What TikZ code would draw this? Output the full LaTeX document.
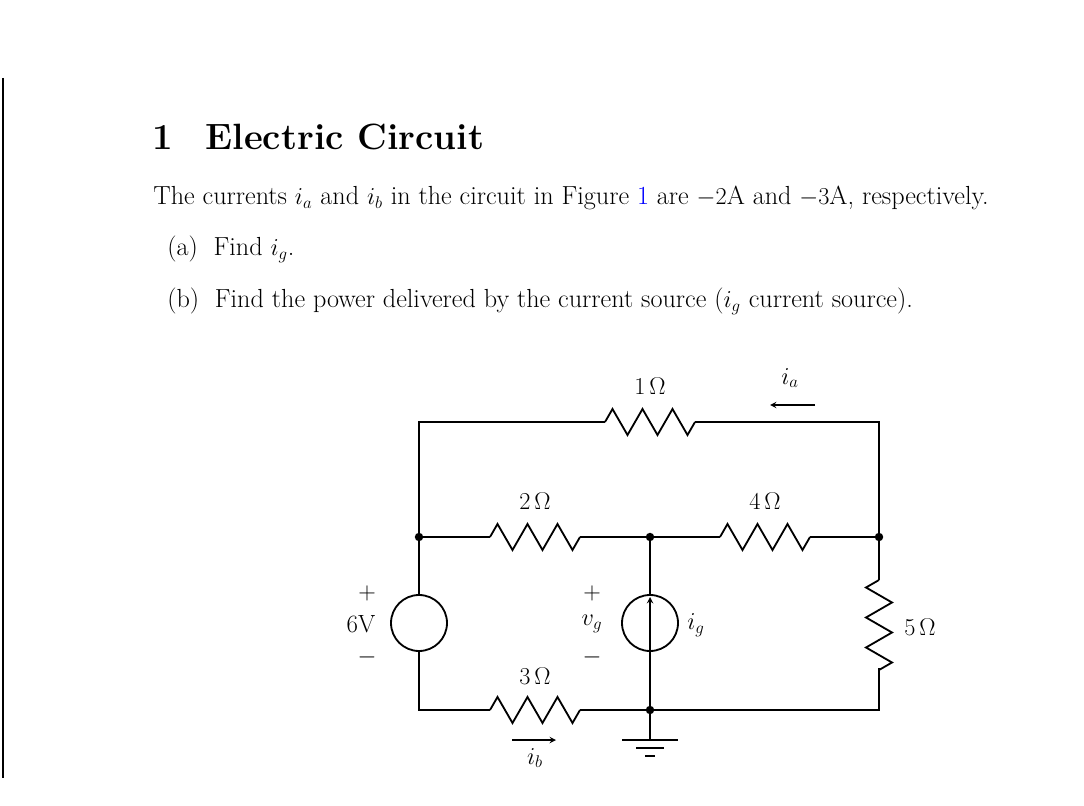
\documentclass[tikz,border=0pt]{standalone}
\begin{document}
\begin{tikzpicture}[x=0.025cm,y=-0.025cm,
  txt/.style={inner sep=0pt,anchor=base west,font=\fontsize{18.6}{22}\selectfont},
  lbl/.style={inner sep=1pt,font=\fontsize{17.7}{21}\selectfont},
  wire/.style={line width=1.3pt},
  dot/.style={circle,fill=black,inner sep=0pt,minimum size=6pt},
  src/.style={circle,draw,line width=1.3pt,minimum size=56pt*0.711,inner sep=0pt}]
\useasboundingbox (0,0) rectangle (1084,806);
\draw[line width=1pt] (3,78) -- (3,778);
\node[txt,font=\fontsize{26}{30}\selectfont\bfseries] (title) at (152,150) {1\hspace{0.9em}Electric Circuit};
\node[txt] (l1) at (153,205) {The currents $i_a$ and $i_b$ in the circuit in Figure \textcolor{blue}{1} are $-2$A and $-3$A, respectively.};
\node[txt] (l2) at (167,256) {(a)\ \ Find $i_g$.};
\node[txt] (l3) at (167,308) {(b)\ \ Find the power delivered by the current source ($i_g$ current source).};
% coordinates
\coordinate (TL) at (419,422); \coordinate (TR) at (879,422);
\node[dot] (ML) at (419,537) {}; \node[dot] (MM) at (650,537) {}; \node[dot] (MR) at (879,537) {};
\coordinate (BL) at (419,710); \coordinate (BR) at (879,710);
\node[dot] (BM) at (650,710) {};
\node[src] (V) at (419,623) {};
\node[src] (I) at (650,623) {};
\draw[-stealth,line width=1pt] (650,650) -- (650,597);
% wires
\draw[wire] (V.north) -- (ML.center) -- (TL) -- (605,422);
\draw[wire] (695,422) -- (TR) -- (MR.center) -- (879,580);
\draw[wire] (879,668) -- (BR) -- (BM.center) -- (580,710);
\draw[wire] (490,710) -- (BL) -- (V.south);
\draw[wire] (ML.center) -- (490,537); \draw[wire] (580,537) -- (MM.center) -- (720,537);
\draw[wire] (810,537) -- (MR.center);
\draw[wire] (MM.center) -- (I.north); \draw[wire] (I.south) -- (BM.center);
% resistors
\foreach \x/\y in {605/422,490/537,720/537,490/710}{
  \draw[wire,line join=miter] (\x,\y) -- ++(7.5,-13) -- ++(15,26) -- ++(15,-26) -- ++(15,26) -- ++(15,-26) -- ++(15,26) -- ++(7.5,-13);}
\draw[wire,line join=miter] (879,580) -- ++(-13,7.5) -- ++(26,15) -- ++(-26,15) -- ++(26,15) -- ++(-26,15) -- ++(26,15) -- ++(-13,7.5);
% ground
\draw[wire] (BM.center) -- (650,740);
\draw[wire] (622,740) -- (678,740); \draw[wire] (636,748) -- (664,748); \draw[wire] (645,756) -- (655,756);
% labels
\node[lbl] (r1) at (650,386) {$1\,\Omega$};
\node[lbl] (ia) at (790,378) {$i_a$};
\coordinate (a1) at (815,405); \coordinate (a2) at (770,405);
\draw[-stealth,line width=1pt] (a1) -- (a2);
\node[lbl] (r2) at (535,501) {$2\,\Omega$};
\node[lbl] (r4) at (765,501) {$4\,\Omega$};
\node[lbl] (r3) at (535,676) {$3\,\Omega$};
\node[lbl] (r5) at (920,627) {$5\,\Omega$};
\node[lbl] (ib) at (535,758) {$i_b$};
\coordinate (b1) at (512,740); \coordinate (b2) at (556,740);
\draw[-stealth,line width=1pt] (b1) -- (b2);
\node[lbl] (vp) at (367,593) {$+$};
\node[lbl] (vv) at (361,624) {6V};
\node[lbl] (vm) at (367,657) {$-$};
\node[lbl] (gp) at (592,593) {$+$};
\node[lbl] (gv) at (592,624) {$v_g$};
\node[lbl] (gm) at (592,657) {$-$};
\node[lbl] (ig) at (696,625) {$i_g$};
\end{tikzpicture}
\end{document}
